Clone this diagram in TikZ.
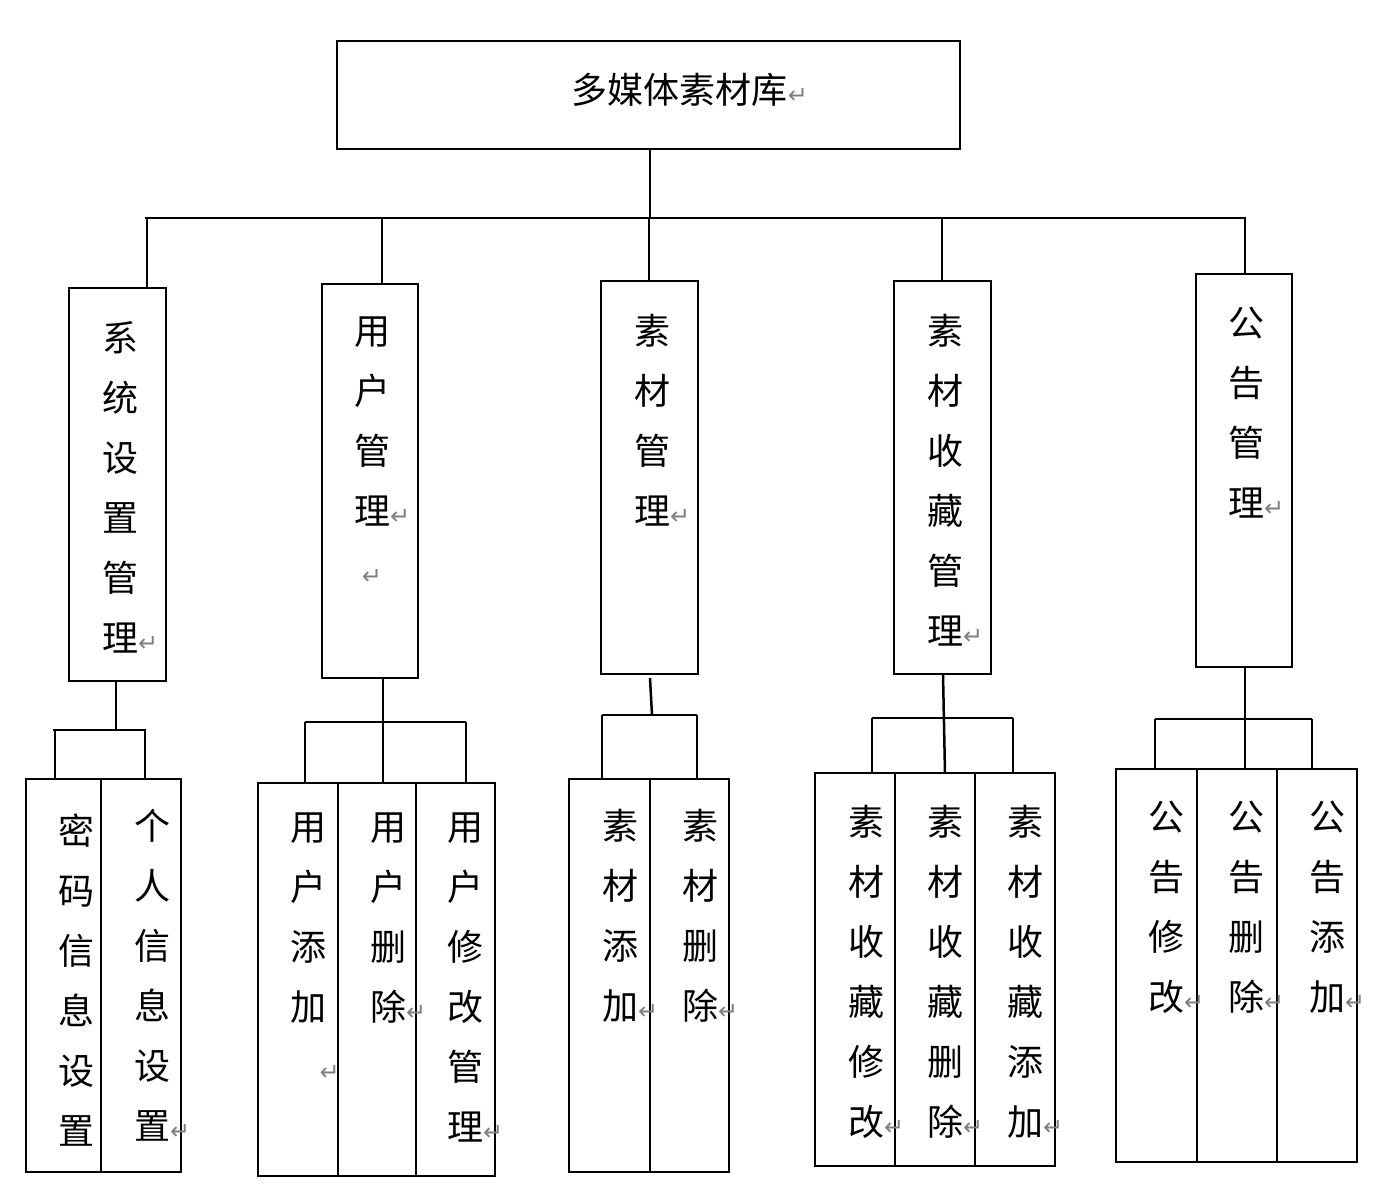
\documentclass[tikz,border=0pt]{standalone}
\usepackage{fontspec}
\newfontfamily\cjk{Noto Sans CJK SC}
\newfontfamily\symf{DejaVu Sans}
\newcommand{\parmk}{{\symf\color{gray}\fontsize{24}{24}\selectfont ↵}}
\begin{document}
\begin{tikzpicture}[x=1pt,y=-1pt,line width=2.5pt,
  vt/.style={anchor=north,align=center,inner sep=0pt,font=\cjk\fontsize{36}{60}\selectfont}]
\useasboundingbox (0,0) rectangle (1395,1185);
% top
\draw (337,41) rectangle (960,149);
\node[font=\cjk\fontsize{36}{40}\selectfont] (root) at (690,90) {多媒体素材库\parmk};
\coordinate (rb) at (650,149);
\coordinate (rj) at (650,218);
\draw (rb) -- (rj);
\coordinate (hl) at (145,218); \coordinate (hr) at (1246,218);
\draw (hl) -- (hr);
% level 2
\foreach \xa/\ya/\xb/\yb/\dx in {69/288/166/681/147, 322/284/418/678/382, 601/281/698/674/649, 894/281/991/674/942, 1196/274/1292/667/1245}{
  \draw (\xa,\ya) rectangle (\xb,\yb);
  \draw (\dx,218) -- (\dx,\ya);
}
\node[vt] (a) at (120,320) {系\\统\\设\\置\\管\\理\rlap{\parmk}};
\node[vt] (b) at (372,316) {用\\户\\管\\理\rlap{\parmk}\\\parmk};
\node[vt] (c) at (652,313) {素\\材\\管\\理\rlap{\parmk}};
\node[vt] (d) at (945,313) {素\\材\\收\\藏\\管\\理\rlap{\parmk}};
\node[vt] (e) at (1246,306) {公\\告\\管\\理\rlap{\parmk}};
% level 3 connectors
\draw (116,681) -- (116,730); \draw (53,730) -- (146,730);
\draw (55,730) -- (55,779); \draw (145,730) -- (145,779);
\draw (383,678) -- (383,783); \draw (305,722) -- (466,722);
\draw (305,722) -- (305,783); \draw (466,722) -- (466,783);
\draw (650,678) -- (652,715); \draw (602,715) -- (697,715);
\draw (602,715) -- (602,779); \draw (697,715) -- (697,779);
\draw (943,674) -- (945,773); \draw (872,718) -- (1013,718);
\draw (872,718) -- (872,773); \draw (1013,718) -- (1013,773);
\draw (1245,667) -- (1245,769); \draw (1155,719) -- (1312,719);
\draw (1155,719) -- (1155,769); \draw (1312,719) -- (1312,769);
% level 3 boxes
\draw (26,779) rectangle (181,1172); \draw (101,779) -- (101,1172);
\draw (258,783) rectangle (495,1176); \draw (338,783) -- (338,1176); \draw (416,783) -- (416,1176);
\draw (569,779) rectangle (729,1172); \draw (650,779) -- (650,1172);
\draw (815,773) rectangle (1055,1166); \draw (895,773) -- (895,1166); \draw (975,773) -- (975,1166);
\draw (1116,769) rectangle (1357,1162); \draw (1197,769) -- (1197,1162); \draw (1277,769) -- (1277,1162);
\node[vt] (f1) at (76,813) {密\\码\\信\\息\\设\\置};
\node[vt] (f2) at (152,808) {个\\人\\信\\息\\设\\置\rlap{\parmk}};
\node[vt] (g1) at (308,812) {用\\户\\添\\加\\\hspace*{1.2em}\parmk};
\node[vt] (g2) at (388,812) {用\\户\\删\\除\rlap{\parmk}};
\node[vt] (g3) at (465,812) {用\\户\\修\\改\\管\\理\rlap{\parmk}};
\node[vt] (h1) at (620,808) {素\\材\\添\\加\rlap{\parmk}};
\node[vt] (h2) at (700,808) {素\\材\\删\\除\rlap{\parmk}};
\node[vt] (i1) at (866,804) {素\\材\\收\\藏\\修\\改\rlap{\parmk}};
\node[vt] (i2) at (945,804) {素\\材\\收\\藏\\删\\除\rlap{\parmk}};
\node[vt] (i3) at (1025,804) {素\\材\\收\\藏\\添\\加\rlap{\parmk}};
\node[vt] (j1) at (1166,800) {公\\告\\修\\改\rlap{\parmk}};
\node[vt] (j2) at (1246,800) {公\\告\\删\\除\rlap{\parmk}};
\node[vt] (j3) at (1327,800) {公\\告\\添\\加\rlap{\parmk}};
\end{tikzpicture}
\end{document}
